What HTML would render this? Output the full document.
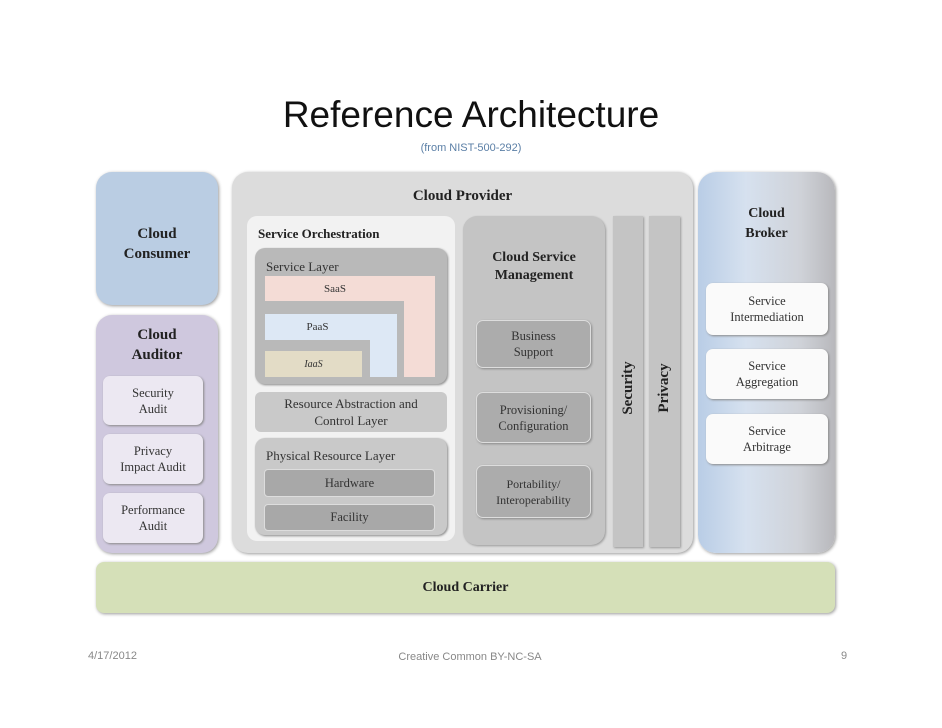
<!DOCTYPE html>
<html><head><meta charset="utf-8">
<style>
*{margin:0;padding:0;box-sizing:border-box}
body{width:942px;height:728px;background:#fff;position:relative;overflow:hidden;font-family:"Liberation Serif",serif}
.a{position:absolute}
.c{display:flex;align-items:center;justify-content:center;text-align:center}
.b{font-weight:bold;color:#222}
.sub{border-radius:7px;box-shadow:1px 1px 2px #888;font-size:12.5px;line-height:16px;color:#333}
</style></head><body>
<div class="a c" style="left:0;width:942px;top:94px;height:42px;font-family:'Liberation Sans',sans-serif;font-size:37px;color:#111">Reference Architecture</div>
<div class="a c" style="left:0;width:942px;top:140px;height:16px;font-family:'Liberation Sans',sans-serif;font-size:11px;color:#5b7fa6">(from NIST-500-292)</div>

<div class="a c b" style="left:96px;top:172px;width:122px;height:133px;background:#bacde3;border-radius:16px;box-shadow:1px 1px 3px #999;align-items:flex-start;padding-top:52px;font-size:15px;line-height:20px">Cloud<br>Consumer</div>
<div class="a" style="left:96px;top:315px;width:122px;height:238px;background:#cfc8de;border-radius:16px;box-shadow:1px 1px 3px #999"></div>
<div class="a c b" style="left:96px;top:324px;width:122px;height:42px;font-size:15px;line-height:20px">Cloud<br>Auditor</div>
<div class="a c sub" style="left:103px;top:376px;width:100px;height:49px;background:#ece8f2">Security<br>Audit</div>
<div class="a c sub" style="left:103px;top:434px;width:100px;height:50px;background:#ece8f2">Privacy<br>Impact Audit</div>
<div class="a c sub" style="left:103px;top:493px;width:100px;height:50px;background:#ece8f2">Performance<br>Audit</div>

<div class="a" style="left:232px;top:172px;width:461px;height:381px;background:#dcdcdc;border-radius:16px;box-shadow:1px 1px 3px #999"></div>
<div class="a c b" style="left:232px;top:186px;width:461px;height:20px;font-size:15px">Cloud Provider</div>
<div class="a" style="left:247px;top:216px;width:208px;height:325px;background:#f2f2f2;border-radius:10px"></div>
<div class="a b" style="left:258px;top:226px;font-size:13px">Service Orchestration</div>
<div class="a" style="left:255px;top:248px;width:192px;height:136px;background:#b9b9b9;border-radius:10px;box-shadow:1px 1px 2px #888"></div>
<div class="a" style="left:266px;top:259px;font-size:13px;color:#333">Service Layer</div>
<div class="a" style="left:265px;top:276px;width:170px;height:25px;background:#f4dcd6"></div>
<div class="a" style="left:404px;top:276px;width:31px;height:101px;background:#f4dcd6"></div>
<div class="a c" style="left:265px;top:276px;width:140px;height:25px;font-size:11px;color:#333">SaaS</div>
<div class="a" style="left:265px;top:314px;width:132px;height:26px;background:#dde8f5"></div>
<div class="a" style="left:370px;top:314px;width:27px;height:63px;background:#dde8f5"></div>
<div class="a c" style="left:265px;top:314px;width:105px;height:26px;font-size:11px;color:#333">PaaS</div>
<div class="a c" style="left:265px;top:351px;width:97px;height:26px;background:#e3dcc6;font-size:10px;font-style:italic;color:#333">IaaS</div>
<div class="a c" style="left:255px;top:392px;width:192px;height:40px;background:#c9c9c9;border-radius:6px;font-size:13px;line-height:17px;color:#333">Resource Abstraction and<br>Control Layer</div>
<div class="a" style="left:255px;top:438px;width:192px;height:97px;background:#c9c9c9;border-radius:10px;box-shadow:1px 1px 2px #888"></div>
<div class="a" style="left:266px;top:448px;font-size:13px;color:#333">Physical Resource Layer</div>
<div class="a c" style="left:264px;top:469px;width:171px;height:28px;background:#a8a8a8;border:1px solid #ddd;border-radius:4px;font-size:12.5px;color:#333">Hardware</div>
<div class="a c" style="left:264px;top:504px;width:171px;height:27px;background:#a8a8a8;border:1px solid #ddd;border-radius:4px;font-size:12.5px;color:#333">Facility</div>

<div class="a" style="left:463px;top:216px;width:142px;height:329px;background:#c4c4c4;border-radius:14px;box-shadow:1px 1px 2px #999"></div>
<div class="a c b" style="left:463px;top:248px;width:142px;height:38px;font-size:14px;line-height:18px">Cloud Service<br>Management</div>
<div class="a c sub" style="left:476px;top:320px;width:115px;height:48px;background:#acacac;border:1px solid #ddd">Business<br>Support</div>
<div class="a c sub" style="left:476px;top:392px;width:115px;height:51px;background:#acacac;border:1px solid #ddd">Provisioning/<br>Configuration</div>
<div class="a c sub" style="left:476px;top:465px;width:115px;height:53px;background:#acacac;border:1px solid #ddd;font-size:12px">Portability/<br>Interoperability</div>
<div class="a" style="left:613px;top:216px;width:30px;height:331px;background:#c4c4c4;box-shadow:1px 1px 2px #999"></div>
<div class="a" style="left:649px;top:216px;width:31px;height:331px;background:#c4c4c4;box-shadow:1px 1px 2px #999"></div>
<div class="a c b" style="left:578px;top:373px;width:100px;height:30px;transform:rotate(-90deg);font-size:15px">Security</div>
<div class="a c b" style="left:614px;top:373px;width:100px;height:30px;transform:rotate(-90deg);font-size:15px">Privacy</div>

<div class="a" style="left:698px;top:172px;width:137px;height:381px;background:linear-gradient(90deg,#b9cde6 0%,#d6e1ef 35%,#cfd2d8 75%,#b8b8bc 100%);border-radius:18px;box-shadow:1px 1px 3px #999"></div>
<div class="a c b" style="left:698px;top:204px;width:137px;height:40px;font-size:14px;line-height:20px">Cloud<br>Broker</div>
<div class="a c sub" style="left:706px;top:283px;width:122px;height:52px;background:#fafafa">Service<br>Intermediation</div>
<div class="a c sub" style="left:706px;top:349px;width:122px;height:50px;background:#fafafa">Service<br>Aggregation</div>
<div class="a c sub" style="left:706px;top:414px;width:122px;height:50px;background:#fafafa">Service<br>Arbitrage</div>

<div class="a c b" style="left:96px;top:562px;width:739px;height:51px;background:#d5e0b8;border-radius:8px;box-shadow:1px 1px 3px #999;font-size:14px">Cloud Carrier</div>

<div class="a" style="left:88px;top:650px;font-family:'Liberation Sans',sans-serif;font-size:11px;color:#888">4/17/2012</div>
<div class="a c" style="left:320px;width:300px;top:650px;height:14px;font-family:'Liberation Sans',sans-serif;font-size:11px;color:#888">Creative Common BY-NC-SA</div>
<div class="a" style="left:841px;top:650px;font-family:'Liberation Sans',sans-serif;font-size:11px;color:#888">9</div>
</body></html>
